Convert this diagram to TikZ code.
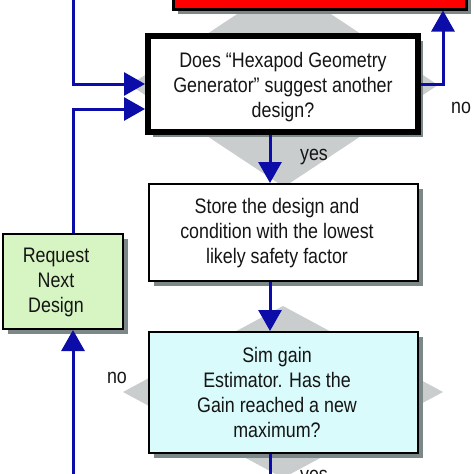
\documentclass[tikz,border=0pt]{standalone}
\usepackage{fontspec}
\setmainfont{Liberation Sans}[FakeStretch=0.85]
\usetikzlibrary{arrows.meta,calc,shadows}
\definecolor{flowblue}{HTML}{0C0CA8}
\definecolor{diagray}{HTML}{C9CDCD}
\definecolor{shadowgray}{HTML}{7C8787}
\definecolor{greenfill}{HTML}{D7F5C3}
\definecolor{cyanfill}{HTML}{D9FBFB}
\definecolor{textblack}{HTML}{151515}
\begin{document}
\begin{tikzpicture}[x=1pt,y=-1pt,
  box/.style={draw=black, rectangle, inner sep=0pt, line width=2pt,
    drop shadow={shadow xshift=5pt, shadow yshift=-5pt, fill=shadowgray, opacity=1}},
  lbl/.style={font=\fontsize{21}{25}\selectfont, text=textblack, align=center, inner sep=0pt},
  flow/.style={draw=flowblue, line width=3pt},
  tip/.style={-{Triangle[length=21pt,width=23pt]}},
  diam/.style={fill=diagray}]
\useasboundingbox (0,0) rectangle (474,474);
\clip (0,0) rectangle (474,474);
% gray diamonds
\fill[diam] (284,-17) -- (438,85) -- (284,187) -- (130,85) -- cycle;
\fill[diam] (283,306) -- (443,392) -- (283,478) -- (123,392) -- cycle;
% boxes
\node[box, fill=red, line width=3pt, minimum width=293pt, minimum height=50pt] (red) at (319.5,-16) {};
\node[box, fill=white, line width=6pt, minimum width=270pt, minimum height=96pt] (dec) at (283,84) {};
\node[box, fill=white, minimum width=269pt, minimum height=97pt] (store) at (283.5,232.5) {};
\node[box, fill=cyanfill, minimum width=269pt, minimum height=121pt] (sim) at (283.5,392.5) {};
\node[box, fill=greenfill, minimum width=120pt, minimum height=95pt] (req) at (63,281.5) {};
% texts
\node[lbl] (decT) at (283,87) {Does “Hexapod Geometry\\Generator” suggest another\\design?};
\node[lbl] (storeT) at (277,233) {Store the design and\\condition with the lowest\\likely safety factor};
\node[lbl] (simT) at (277,392) {Sim gain\\Estimator. Has the\\Gain reached a new\\maximum?};
\node[lbl] (reqT) at (56,282) {Request\\Next\\Design};
\node[lbl] (noR) at (461,108) {no};
\node[lbl] (yesA) at (314,157) {yes};
\node[lbl] (noL) at (117,378) {no};
\node[lbl] (yesB) at (314,478) {yes};
% coordinates
\coordinate (lx) at (73,0);
\coordinate (cx) at (270,0);
\coordinate (rx) at (443,0);
\coordinate (topin) at (73,-10);
\coordinate (botin) at (73,490);
\coordinate (botout) at (270,490);
% connectors
\draw[flow, tip] (topin) |- (dec.west);
\draw[flow, tip] (req.north -| lx) |- ($(dec.west)+(0,25)$);
\draw[flow, tip] (dec.east) -| (red.south -| rx);
\draw[flow, tip] (dec.south -| cx) -- (store.north -| cx);
\draw[flow, tip] (store.south -| cx) -- (sim.north -| cx);
\draw[flow] (sim.south -| cx) -- (botout);
\draw[flow] ($(sim.west)+(0,11.5)$) -- ($(sim.west)+(0,11.5)$ -| lx);
\draw[flow, tip] (botin) -- (req.south -| lx);
\end{tikzpicture}
\end{document}
